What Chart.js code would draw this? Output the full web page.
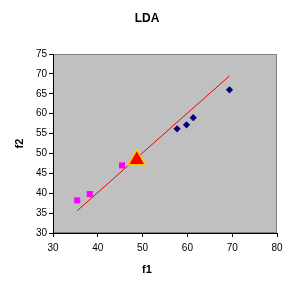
<!DOCTYPE html>
<html>
<head>
<meta charset="utf-8">
<script src="https://cdn.jsdelivr.net/npm/chart.js"></script>
<style>
  body { margin: 0; background: #fff; }
  canvas { display: block; }
</style>
</head>
<body>
<canvas id="lda" width="291" height="289"></canvas>
<script>
// class 1 (blue diamonds)
const class1X = [57.7, 59.8, 61.3, 69.4];
const class1Y = [56.2, 57.2, 59.0, 66.0];
// class 2 (magenta squares)
const class2X = [35.4, 38.2, 45.4];
const class2Y = [38.2, 39.8, 47.0];
// test point
const testX = [48.7];
const testY = [48.4];
// discriminant line end points
const lineX = [35.4, 69.4];
const lineY = [35.6, 69.5];

const toPoints = (xs, ys) => xs.map((x, i) => ({ x, y: ys[i] }));

const fontFamily = "'Liberation Sans', Arial, sans-serif";

const plotBackground = {
    id: "plotBackground",
    beforeDraw(chart) {
        const { ctx, chartArea: a } = chart;
        ctx.save();
        ctx.fillStyle = "#c0c0c0";
        ctx.fillRect(a.left, a.top, a.right - a.left, a.bottom - a.top);
        ctx.strokeStyle = "#808080";
        ctx.lineWidth = 1;
        ctx.strokeRect(a.left + 0.5, a.top + 0.5, a.right - a.left - 1, a.bottom - a.top - 1);
        ctx.restore();
    }
};

new Chart(document.getElementById("lda").getContext("2d"), {
    type: "scatter",
    data: {
        datasets: [
            {
                label: "test",
                data: toPoints(testX, testY),
                pointStyle: "triangle",
                pointRadius: 10,
                backgroundColor: "#ff0000",
                borderColor: "#ffcc00",
                borderWidth: 1.5,
                order: 0
            },
            {
                label: "class 1",
                data: toPoints(class1X, class1Y),
                pointStyle: "rectRot",
                pointRadius: 3.6,
                backgroundColor: "#000080",
                borderColor: "#000080",
                borderWidth: 0,
                order: 2
            },
            {
                label: "class 2",
                data: toPoints(class2X, class2Y),
                pointStyle: "rect",
                pointRadius: 4.3,
                backgroundColor: "#ff00ff",
                borderColor: "#ff00ff",
                borderWidth: 0,
                order: 2
            },
            {
                label: "line",
                data: toPoints(lineX, lineY),
                showLine: true,
                pointRadius: 0,
                borderColor: "#ee0000",
                borderWidth: 1,
                order: 1
            }
        ]
    },
    options: {
        responsive: false,
        animation: false,
        layout: { padding: { left: 3, right: 0, top: 0, bottom: 0 } },
        plugins: {
            legend: { display: false },
            tooltip: { enabled: false },
            title: {
                display: true,
                text: "LDA",
                color: "#000",
                font: { family: fontFamily, size: 12, weight: "bold", lineHeight: 1.2 },
                padding: { top: 11, bottom: 28.6 }
            },
            subtitle: {
                display: true,
                position: "bottom",
                text: "f1",
                color: "#000",
                font: { family: fontFamily, size: 11, weight: "bold", lineHeight: 1.2 },
                padding: { top: 2, bottom: 12.4 }
            }
        },
        scales: {
            x: {
                type: "linear",
                min: 30,
                max: 80,
                ticks: {
                    stepSize: 10,
                    color: "#000",
                    padding: 5,
                    maxRotation: 0,
                    font: { family: fontFamily, size: 10 }
                },
                grid: { drawOnChartArea: false, tickLength: 4, color: "#000" },
                border: { color: "#000", width: 1 },
                afterFit(s) { s.height = 28.4; }
            },
            y: {
                min: 30,
                max: 75,
                ticks: {
                    stepSize: 5,
                    color: "#000",
                    padding: 2,
                    font: { family: fontFamily, size: 10 }
                },
                grid: { drawOnChartArea: false, tickLength: 4, color: "#000" },
                border: { color: "#000", width: 1 },
                title: {
                    display: true,
                    text: "f2",
                    color: "#000",
                    font: { family: fontFamily, size: 11, weight: "bold", lineHeight: 1.2 },
                    padding: { top: 10.4, bottom: 0 }
                },
                afterFit(s) { s.width = 50; }
            },
            // empty right-hand box, keeps the plot area off the right edge
            spacer: {
                position: "right",
                min: 0,
                max: 1,
                ticks: { display: false },
                grid: { display: false },
                border: { display: false },
                afterFit(s) { s.width = 14; }
            }
        }
    },
    plugins: [plotBackground]
});
</script>
</body>
</html>
